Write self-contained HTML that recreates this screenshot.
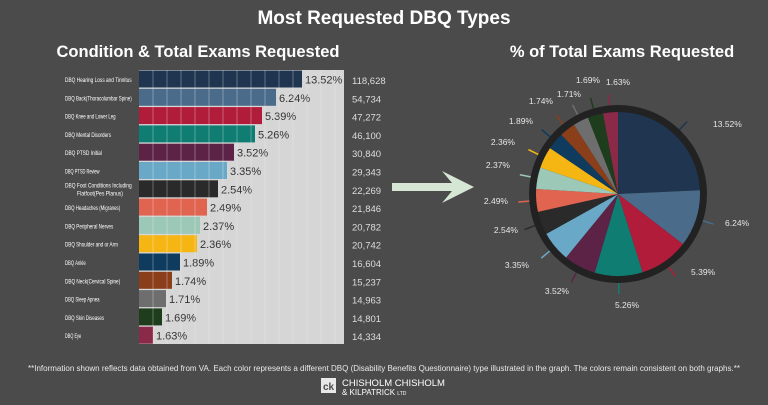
<!DOCTYPE html>
<html><head><meta charset="utf-8"><style>
body{margin:0;background:#4b4b4b;width:768px;height:400px;overflow:hidden;font-family:"Liberation Sans",sans-serif}
</style></head><body>
<svg id="s" width="768" height="400" xmlns="http://www.w3.org/2000/svg" font-family="Liberation Sans, sans-serif">
<rect width="768" height="400" fill="#4b4b4b"/>
<text x="384" y="24" fill="#fff" font-size="19" font-weight="bold" text-anchor="middle">Most Requested DBQ Types</text>
<text x="198" y="57" fill="#fff" font-size="16.5" font-weight="bold" text-anchor="middle">Condition &amp; Total Exams Requested</text>
<text x="622" y="57" fill="#fff" font-size="16.5" font-weight="bold" text-anchor="middle">% of Total Exams Requested</text>
<rect x="139" y="70" width="205" height="274" fill="#d6d6d6"/>
<g id="bars"></g>
<g id="pie"></g>
<path d="M392 183 L452 183 L442 171 L474 187 L442 203 L452 191 L392 191 Z" fill="#d5e6d5"/>
<text x="384" y="371" fill="#e8e8e8" font-size="8" text-anchor="middle">**Information shown reflects data obtained from VA. Each color represents a different DBQ (Disability Benefits Questionnaire) type illustrated in the graph. The colors remain consistent on both graphs.**</text>
<rect x="321" y="378" width="15" height="15" fill="#e8e8e8"/>
<text x="328.5" y="390" fill="#4b4b4b" font-size="10" font-weight="bold" text-anchor="middle">ck</text>
<text x="342" y="386" fill="#fff" font-size="9.5">CHISHOLM CHISHOLM</text>
<text x="342" y="395" fill="#fff" font-size="8">&amp; KILPATRICK <tspan font-size="5">LTD</tspan></text>
</svg>
<script>
var D=[["DBQ Hearing Loss and Tinnitus",13.52,"118,628",302,"#1f3550"],
["DBQ Back(Thoracolumbar Spine)",6.24,"54,734",276,"#4a6b8a"],
["DBQ Knee and Lower Leg",5.39,"47,272",262,"#b01c3a"],
["DBQ Mental Disorders",5.26,"46,100",255,"#0f7d72"],
["DBQ PTSD Initial",3.52,"30,840",234,"#5c2346"],
["DBQ PTSD Review",3.35,"29,343",227,"#6aa8c8"],
["DBQ Foot Conditions Including|Flatfoot(Pes Planus)",2.54,"22,269",218,"#2a2a2a"],
["DBQ Headaches (Migranes)",2.49,"21,846",207,"#e06450"],
["DBQ Peripheral Nerves",2.37,"20,782",200,"#9cc8b8"],
["DBQ Shoulder and or Arm",2.36,"20,742",197,"#f5b614"],
["DBQ Ankle",1.89,"16,604",180,"#0f3b5e"],
["DBQ Neck(Cervical Spine)",1.74,"15,237",172,"#8b3e1a"],
["DBQ Sleep Apnea",1.71,"14,963",166,"#6e6e6e"],
["DBQ Skin Diseases",1.69,"14,801",162,"#1e3d1c"],
["DBQ Eye",1.63,"14,334",153,"#8a2a48"]];
var LP=[[713,127,'start'],[725,226,'start'],[691,275,'start'],[627,308,'middle'],[569,294,'end'],[529,268,'end'],[518,233,'end'],[508,204,'end'],[510,168,'end'],[515,145,'end'],[533,124,'end'],[553,104,'end'],[581,97,'end'],[600,83,'end'],[606,85,'start']];
var b="",i,y;
function t(s,x,yy){var w=s.length*2.3;return '<text x="'+x+'" y="'+yy+'" fill="#fff" font-size="6.8" textLength="'+w+'" lengthAdjust="spacingAndGlyphs">'+s+'</text>';}
for(i=0;i<15;i++){y=70+i*18.3;var d=D[i];
b+='<rect x="139" y="'+(y+0.5)+'" width="'+(d[3]-139)+'" height="17" fill="'+d[4]+'"/>';
for(var gx=153;gx<d[3];gx+=14)b+='<line x1="'+gx+'" y1="'+(y+0.5)+'" x2="'+gx+'" y2="'+(y+17.5)+'" stroke="rgba(255,255,255,0.12)"/>';
b+='<text x="'+(d[3]+3)+'" y="'+(y+13.5)+'" fill="#333" font-size="11">'+d[1].toFixed(2)+'%</text>';
b+='<text x="352" y="'+(y+14)+'" fill="#ddd" font-size="9.5">'+d[2]+'</text>';
var L=d[0].split("|");
if(L.length==1)b+=t(L[0],65,y+12);
else{b+=t(L[0],65,y+7.5)+t(L[1],77,y+15.5);}
}
for(gx=153;gx<344;gx+=14)b+='<line x1="'+gx+'" y1="70" x2="'+gx+'" y2="344" stroke="rgba(255,255,255,0.35)" stroke-width="0.6"/>';
document.getElementById("bars").innerHTML=b;
var cx=618,cy=194,r=82,tot=0;for(i=0;i<15;i++)tot+=D[i][1];
var p='<circle cx="'+cx+'" cy="'+cy+'" r="89" fill="#222"/>',a=0;
for(i=0;i<15;i++){var a2=a+D[i][1]/tot*2*Math.PI;
var x1=cx+r*Math.sin(a),y1=cy-r*Math.cos(a),x2=cx+r*Math.sin(a2),y2=cy-r*Math.cos(a2);
p+='<path d="M'+cx+' '+cy+' L'+x1+' '+y1+' A'+r+' '+r+' 0 '+((a2-a)>Math.PI?1:0)+' 1 '+x2+' '+y2+' Z" fill="'+D[i][4]+'"/>';
var m=(a+a2)/2;
p+='<line x1="'+(cx+89*Math.sin(m))+'" y1="'+(cy-89*Math.cos(m))+'" x2="'+(cx+100*Math.sin(m))+'" y2="'+(cy-100*Math.cos(m))+'" stroke="'+D[i][4]+'" stroke-width="1.5"/>';
p+='<text x="'+LP[i][0]+'" y="'+LP[i][1]+'" fill="#e6e6e6" font-size="8.5" text-anchor="'+LP[i][2]+'">'+D[i][1].toFixed(2)+'%</text>';
a=a2;}
document.getElementById("pie").innerHTML=p;
</script>
</body></html>
